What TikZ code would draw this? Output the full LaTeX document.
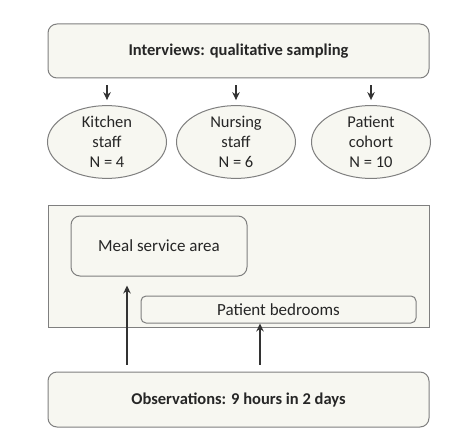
\documentclass[tikz,border=0pt]{standalone}
\usepackage{fontspec}
\setmainfont{Carlito}
\usetikzlibrary{arrows.meta, positioning, shapes.geometric}
\definecolor{boxgray}{HTML}{7F7F7F}
\definecolor{boxfill}{HTML}{F7F7F1}
\definecolor{arrgray}{HTML}{333333}
\tikzset{
	rbox/.style={draw=boxgray, fill=boxfill, rounded corners=9pt, line width=1pt,
		align=center, inner sep=0pt, text=black!85},
	ebox/.style={ellipse, draw=boxgray, fill=boxfill, line width=1pt, align=center,
		inner sep=0pt, minimum width=119pt, minimum height=70pt, text=black!85,
		font=\fontsize{16.5}{20}\selectfont},
	arr/.style={-{Stealth[length=8pt, width=7.5pt]}, line width=1.6pt, draw=arrgray}
}

\begin{document}
\begin{tikzpicture}[x=1pt, y=-1pt]
	\useasboundingbox (0,0) rectangle (474,436);
	% interviews
	\node[rbox, minimum width=381pt, minimum height=54pt, font=\bfseries\fontsize{16.5}{20}\selectfont] (intv) at (238.5,51) {Interviews: qualitative sampling};
	\node[ebox] (kit) at (107,142) {Kitchen\\staff\\N = 4};
	\node[ebox] (nurs) at (236,142) {Nursing\\staff\\N = 6};
	\node[ebox] (pat) at (371,142) {Patient\\cohort\\N = 10};
	\draw[arr, shorten <=7pt, shorten >=5pt] (intv.south -| kit.north) -- (kit.north);
	\draw[arr, shorten <=7pt, shorten >=5pt] (intv.south -| nurs.north) -- (nurs.north);
	\draw[arr, shorten <=7pt, shorten >=5pt] (intv.south -| pat.north) -- (pat.north);
	% ward
	\node[draw=boxgray, fill=boxfill, line width=1pt, minimum width=381pt, minimum height=122pt] (ward) at (238.5,266) {};
	\node[rbox, minimum width=176pt, minimum height=60pt, font=\fontsize{17}{20}\selectfont] (meal) at (159,246) {Meal service area};
	\node[rbox, rounded corners=5pt, minimum width=275pt, minimum height=27pt, font=\fontsize{17}{20}\selectfont] (bed) at (278.5,309.5) {Patient bedrooms};
	% observations
	\node[rbox, minimum width=381pt, minimum height=55pt, font=\bfseries\fontsize{16.5}{20}\selectfont] (obs) at (238.5,399.5) {Observations: 9 hours in 2 days};
	\coordinate (mealx) at (127,0);
	\coordinate (bedx) at (260,0);
	\draw[arr, shorten <=7pt, shorten >=9pt] (obs.north -| mealx) -- (meal.south -| mealx);
	\draw[arr, shorten <=7pt] (obs.north -| bedx) -- (bed.south -| bedx);
\end{tikzpicture}
\end{document}
